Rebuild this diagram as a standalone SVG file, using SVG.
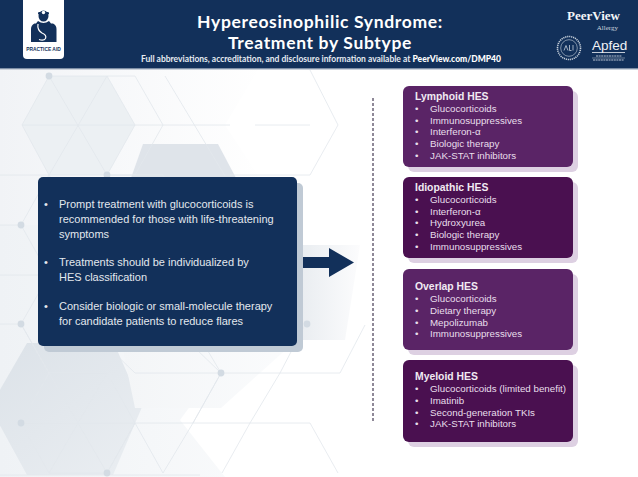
<svg xmlns="http://www.w3.org/2000/svg" width="638" height="477" viewBox="0 0 638 477">
<style>
.card-title{font:bold 10.400px "Liberation Sans",Arial,sans-serif;fill:#f1eaf3}
.card-text{font:9.750px "Liberation Sans",Arial,sans-serif;fill:#e8dfeb}
.main{font:11px "Liberation Sans",Arial,sans-serif;fill:#e3e8ee}
.hl{fill:none;stroke:#e2e7ec;stroke-width:.8}
.dot{fill:#d3dbe3}
</style>
<defs>
<linearGradient id="fadeTop" gradientUnits="userSpaceOnUse" x1="0" y1="0" x2="265" y2="0"><stop offset="0" stop-color="#f1f3f6"/><stop offset="1" stop-color="#ffffff"/></linearGradient>
<linearGradient id="fadeLow" gradientUnits="userSpaceOnUse" x1="0" y1="0" x2="300" y2="0"><stop offset="0" stop-color="#eff2f5"/><stop offset="1" stop-color="#fbfcfd"/></linearGradient>
<linearGradient id="hexLow" gradientUnits="userSpaceOnUse" x1="20" y1="343" x2="120" y2="475"><stop offset="0" stop-color="#dde3e9"/><stop offset="1" stop-color="#e9edf1"/></linearGradient>
<linearGradient id="hexR" gradientUnits="userSpaceOnUse" x1="297" y1="0" x2="360" y2="0"><stop offset="0" stop-color="#e8ecf0"/><stop offset="1" stop-color="#fcfcfd"/></linearGradient>
<linearGradient id="hexB" gradientUnits="userSpaceOnUse" x1="120" y1="0" x2="300" y2="0"><stop offset="0" stop-color="#f3f5f7"/><stop offset="1" stop-color="#fbfcfd"/></linearGradient>
</defs>
<rect width="638" height="477" fill="#fff"/>
<g id="background">
<path d="M0 70H258L225 125 258 175 235 225H0Z" fill="url(#fadeTop)"/>
<path d="M-30 225H230L250 325 180 420 225 477H-30Z" fill="url(#fadeLow)"/>
<path d="M22 125L49 76H107L135 125 107 175H49Z" fill="#ecf0f3"/>
<path d="M125 195L143 144H218L245 195V260H125Z" fill="#dfe4ea"/>
<path d="M-10 407L27 343H114L142 407 113 475H27Z" fill="url(#hexLow)"/>
<path d="M297 245H360L345 340H297Z" fill="url(#hexR)"/>
<path d="M122 346H290L221 408H135Z" fill="url(#hexB)"/>
<g class="hl">
<path d="M22 125L49 76H107L135 125 107 175H49Z"/>
<path d="M49 76L107 175M107 76L49 175M22 125H135"/>
<path d="M107 76L135 76 163 125 135 175H107"/>
<path d="M-8 175H49L78 225 49 275H-8"/>
<path d="M107 175H163L192 225"/>
<path d="M49 175L21 225 49 275M21 225H-10"/>
<path d="M135 125H230M165 76L225 176"/>
<path d="M230 175H310L338 125 310 70M255 125H310"/>
<path d="M21 324L49 373H107L135 423 107 473H49L21 423 49 373M21 423H135M49 373L107 473M107 373L49 473"/>
<path d="M21 324L49 275M21 324H-5M21 324L49 373"/>
<path d="M107 346L135 373H221M135 423H193L221 373 193 346"/>
<path d="M135 423L107 473M135 423L163 473M193 423H310L338 473M221 373L193 423 163 473M250 423L222 473"/>
<path d="M221 373H280L305 325M221 373L205 346M280 373L250 423"/>
<path d="M280 373H340L365 325"/>
<path d="M0 475H200"/>
</g>
<circle class="dot" cx="49" cy="76" r="3.400"/>
<circle class="dot" cx="107" cy="175" r="3.400"/>
<circle class="dot" cx="21" cy="225" r="3.400"/>
<circle class="dot" cx="21" cy="324" r="3.400"/>
<circle class="dot" cx="21" cy="423" r="3.400"/>
<circle class="dot" cx="107" cy="473" r="3.400"/>
<circle class="dot" cx="221" cy="373" r="3.400"/>
<circle class="dot" cx="307" cy="324" r="3.400"/>
</g>
<g id="header">
<rect width="638" height="68" fill="#12305a"/>
<rect y="68" width="638" height="1.400" fill="#7d8ea6"/>
<g id="practice-aid">
<path d="M23 0H64V55Q64 59 60 59H27Q23 59 23 55Z" fill="#fff"/>
<g fill="#12305a">
<ellipse cx="43.500" cy="16" rx="5" ry="5.500"/>
<rect x="38" y="12" width="11" height="2.400" rx="1.200"/>
<path d="M38 21Q43.500 25 49 21L51 23.500H53Q56.500 25 56.500 29V42H31V29Q31 25 34.500 23.500H36Z"/>
</g>
<circle cx="43.500" cy="12.500" r="1.700" fill="#fff"/>
<path d="M38 24Q37 30 42 33 47 35 45.500 38.500 44 41 39 39.500" fill="none" stroke="#fff" stroke-width="1.200"/>
<text x="43.500" y="51" text-anchor="middle" style="font:bold 4.900px 'Liberation Sans',sans-serif;fill:#12305a">PRACTICE AID</text>
</g>
<text x="320" y="28" text-anchor="middle" style="font:bold 17.500px Lato,sans-serif;fill:#fff;letter-spacing:.65px">Hypereosinophilic Syndrome:</text>
<text x="320" y="49" text-anchor="middle" style="font:bold 17.500px Lato,sans-serif;fill:#fff;letter-spacing:.65px">Treatment by Subtype</text>
<text x="321" y="62" text-anchor="middle" style="font:bold 8.500px Lato,sans-serif;fill:#e6ebf1">Full abbreviations, accreditation, and disclosure information available at <tspan style="font-weight:900" fill="#fff">PeerView.com/DMP40</tspan></text>
<g id="peerview-logo">
<text x="620" y="20" text-anchor="end" style="font:bold 13px 'Liberation Serif',serif;fill:#f4f6f8">PeerView</text>
<text x="618" y="30" text-anchor="end" style="font:7px 'Liberation Serif',serif;fill:#cdd5df">Allergy</text>
</g>
<g id="mli-logo" fill="none" stroke="#c8d1dc">
<circle cx="569" cy="48" r="11.500" stroke-width="1.600" stroke-dasharray="1.200 .8"/>
<circle cx="569" cy="48" r="8.300" stroke-width=".6"/>
<path d="M564 50.500L566 45.500 568 50.500M569.500 45V50.500H571.500M573 45V50.500" stroke-width=".8"/>
</g>
<g id="apfed-logo">
<text x="592" y="50" style="font:13.500px 'Liberation Sans',sans-serif;fill:#f0f3f6">Apfed</text>
<path d="M592 52.500H625" stroke="#f0f3f6" stroke-width=".8"/>
<path d="M596 56H622M593 60H624" stroke="#b9c4d1" stroke-width="1.200" stroke-dasharray="2 .6"/>
<path d="M592 58H625" stroke="#f0f3f6" stroke-width=".4"/>
</g>
</g>
<g id="connectors">
<path d="M373 98V421" fill="none" stroke="#1f1230" stroke-width="1" stroke-dasharray="3 2"/>
<path d="M297 257H329V248L354 262.500 329 277V268H297Z" fill="#12305a"/>
</g>
<g id="summary">
<rect x="44" y="183" width="259" height="169" rx="5" fill="#c0cad5"/>
<rect x="38" y="177" width="259" height="169" rx="5" fill="#12305a"/>
<g class="main">
<text x="44" y="208">•</text><text x="59" y="208">Prompt treatment with glucocorticoids is</text>
<text x="59" y="223">recommended for those with life-threatening</text>
<text x="59" y="238">symptoms</text>
<text x="44" y="266">•</text><text x="59" y="266">Treatments should be individualized by</text>
<text x="59" y="281">HES classification</text>
<text x="44" y="310">•</text><text x="59" y="310">Consider biologic or small-molecule therapy</text>
<text x="59" y="325">for candidate patients to reduce flares</text>
</g>
</g>
<g id="lymphoid">
<rect x="408" y="91" width="170" height="81" rx="6" fill="#ddd0e2"/>
<rect x="403" y="86" width="170" height="81" rx="6" fill="#5a2466"/>
<text class="card-title" x="415" y="100">Lymphoid HES</text>
<g class="card-text">
<text x="415" y="112">•</text><text x="430" y="112">Glucocorticoids</text>
<text x="415" y="124">•</text><text x="430" y="124">Immunosuppressives</text>
<text x="415" y="135">•</text><text x="430" y="135">Interferon-α</text>
<text x="415" y="147">•</text><text x="430" y="147">Biologic therapy</text>
<text x="415" y="159">•</text><text x="430" y="159">JAK-STAT inhibitors</text>
</g>
</g>
<g id="idiopathic">
<rect x="408" y="182" width="170" height="81" rx="6" fill="#ddd0e2"/>
<rect x="403" y="177" width="170" height="81" rx="6" fill="#4a1050"/>
<text class="card-title" x="415" y="191">Idiopathic HES</text>
<g class="card-text">
<text x="415" y="203">•</text><text x="430" y="203">Glucocorticoids</text>
<text x="415" y="215">•</text><text x="430" y="215">Interferon-α</text>
<text x="415" y="226">•</text><text x="430" y="226">Hydroxyurea</text>
<text x="415" y="238">•</text><text x="430" y="238">Biologic therapy</text>
<text x="415" y="250">•</text><text x="430" y="250">Immunosuppressives</text>
</g>
</g>
<g id="overlap">
<rect x="408" y="274" width="170" height="81" rx="6" fill="#ddd0e2"/>
<rect x="403" y="269" width="170" height="81" rx="6" fill="#5a2466"/>
<text class="card-title" x="415" y="290">Overlap HES</text>
<g class="card-text">
<text x="415" y="302">•</text><text x="430" y="302">Glucocorticoids</text>
<text x="415" y="314">•</text><text x="430" y="314">Dietary therapy</text>
<text x="415" y="326">•</text><text x="430" y="326">Mepolizumab</text>
<text x="415" y="337">•</text><text x="430" y="337">Immunosuppressives</text>
</g>
</g>
<g id="myeloid">
<rect x="408" y="365" width="170" height="82" rx="6" fill="#ddd0e2"/>
<rect x="403" y="360" width="170" height="82" rx="6" fill="#4a1050"/>
<text class="card-title" x="415" y="380">Myeloid HES</text>
<g class="card-text">
<text x="415" y="392">•</text><text x="430" y="392">Glucocorticoids (limited benefit)</text>
<text x="415" y="404">•</text><text x="430" y="404">Imatinib</text>
<text x="415" y="416">•</text><text x="430" y="416">Second-generation TKIs</text>
<text x="415" y="427">•</text><text x="430" y="427">JAK-STAT inhibitors</text>
</g>
</g>
</svg>
